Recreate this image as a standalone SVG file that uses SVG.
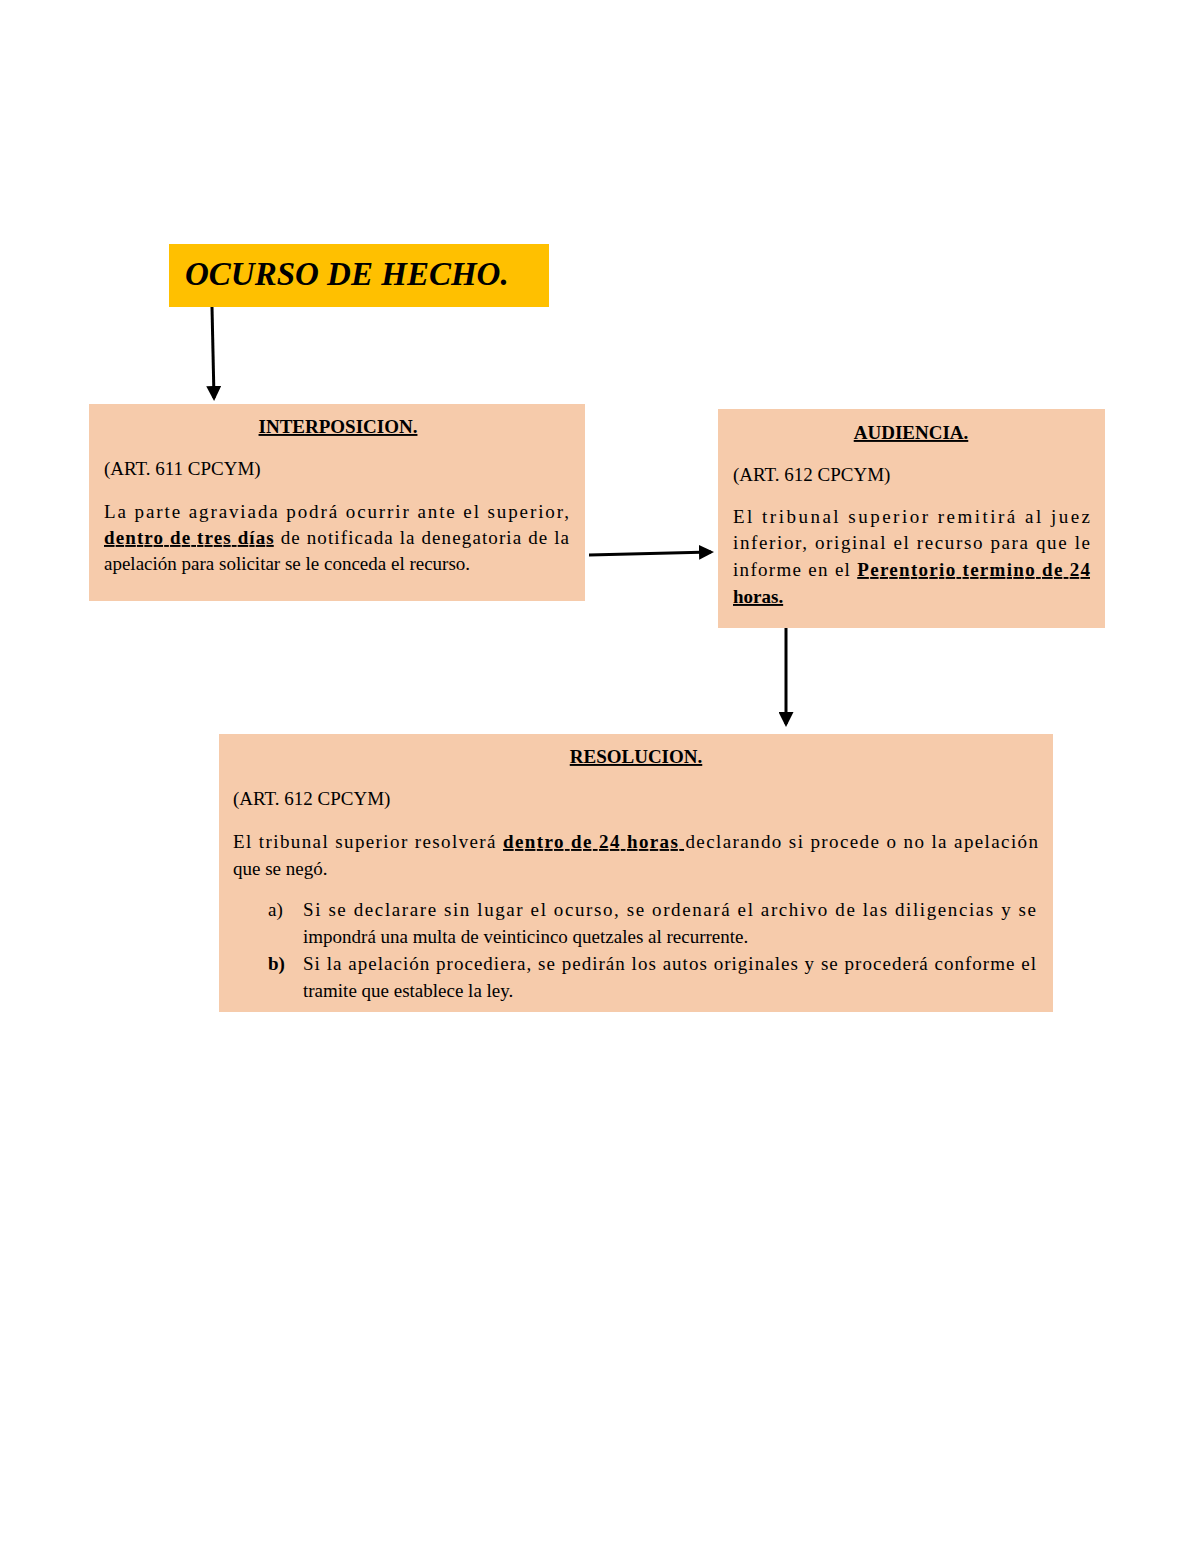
<svg xmlns="http://www.w3.org/2000/svg" width="1200" height="1553" viewBox="0 0 1200 1553">
<style>
text{font-family:"Liberation Serif","Times New Roman",serif;font-size:19px;fill:#000}
.b{font-weight:bold}
.u{text-decoration:underline}
.t{font-weight:bold;text-decoration:underline;text-anchor:middle}
.box{fill:#F6CBAB}
.c{stroke:#000;stroke-width:3;fill:none;marker-end:url(#ah)}
</style>
<defs><marker id="ah" markerWidth="5" markerHeight="5" refX="4" refY="2.5" orient="auto"><path d="M0,0 L5,2.5 L0,5 Z" fill="#000"/></marker></defs>
<rect width="1200" height="1553" fill="#fff"/>
<g id="title"><rect x="169" y="244" width="380" height="63" fill="#FFC000"/>
<text x="185" y="285" style="font-size:33px;font-weight:bold;font-style:italic">OCURSO DE HECHO.</text></g>
<g id="interposicion"><rect class="box" x="89" y="404" width="496" height="197"/>
<text class="t" x="338" y="433">INTERPOSICION.</text>
<text x="104" y="475">(ART. 611 CPCYM)</text>
<text x="104" y="518" textLength="465" lengthAdjust="spacing">La parte agraviada podrá ocurrir ante el superior,</text>
<text x="104" y="544" textLength="465" lengthAdjust="spacing"><tspan class="b u">dentro de tres días</tspan> de notificada la denegatoria de la</text>
<text x="104" y="570">apelación para solicitar se le conceda el recurso.</text></g>
<g id="audiencia"><rect class="box" x="718" y="409" width="387" height="219"/>
<text class="t" x="911" y="439">AUDIENCIA.</text>
<text x="733" y="481">(ART. 612 CPCYM)</text>
<text x="733" y="523" textLength="357" lengthAdjust="spacing">El tribunal superior remitirá al juez</text>
<text x="733" y="549" textLength="357" lengthAdjust="spacing">inferior, original el recurso para que le</text>
<text x="733" y="576" textLength="357" lengthAdjust="spacing">informe en el <tspan class="b u">Perentorio termino de 24</tspan></text>
<text x="733" y="603" class="b u">horas. </text></g>
<g id="resolucion"><rect class="box" x="219" y="734" width="834" height="278"/>
<text class="t" x="636" y="763">RESOLUCION.</text>
<text x="233" y="805">(ART. 612 CPCYM)</text>
<text x="233" y="848" textLength="805" lengthAdjust="spacing">El tribunal superior resolverá <tspan class="b u">dentro de 24 horas </tspan>declarando si procede o no la apelación</text>
<text x="233" y="875">que se negó.</text>
<text x="268" y="916">a)</text>
<text x="303" y="916" textLength="733" lengthAdjust="spacing">Si se declarare sin lugar el ocurso, se ordenará el archivo de las diligencias y se</text>
<text x="303" y="943">impondrá una multa de veinticinco quetzales al recurrente.</text>
<text x="268" y="970" class="b">b)</text>
<text x="303" y="970" textLength="733" lengthAdjust="spacing">Si la apelación procediera, se pedirán los autos originales y se procederá conforme el</text>
<text x="303" y="997">tramite que establece la ley.</text></g>
<g id="connectors">
<path class="c" d="M212,307 L214,398"/>
<path class="c" d="M589,555 L711,552"/>
<path class="c" d="M786,628 L786,724"/>
</g>
</svg>
